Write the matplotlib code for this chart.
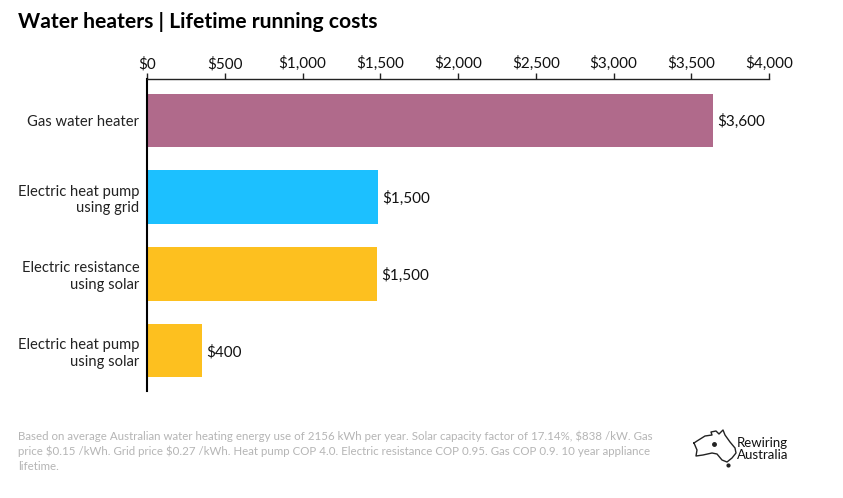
import matplotlib
matplotlib.use("Agg")
import matplotlib.pyplot as plt
from matplotlib.lines import Line2D

plt.rcParams["font.family"] = ["Lato", "DejaVu Sans"]
plt.rcParams["text.parse_math"] = False

W, H = 843, 498
INK = "#111111"
GRAY = "#b5b5b5"

categories = ["Gas water heater", "Electric heat pump\nusing grid",
              "Electric resistance\nusing solar", "Electric heat pump\nusing solar"]
values = [3640, 1485, 1479, 354]
value_labels = ["$3,600", "$1,500", "$1,500", "$400"]
colors = ["#b06a8b", "#1cc0ff", "#fdc01f", "#fdc01f"]
ticks = [0, 500, 1000, 1500, 2000, 2500, 3000, 3500, 4000]
tick_labels = ["$0", "$500", "$1,000", "$1,500", "$2,000", "$2,500", "$3,000", "$3,500", "$4,000"]
note = ("Based on average Australian water heating energy use of 2156 kWh per year. Solar capacity factor of 17.14%, $838 /kW. Gas\n"
        "price $0.15 /kWh. Grid price $0.27 /kWh. Heat pump COP 4.0. Electric resistance COP 0.95. Gas COP 0.9. 10 year appliance\n"
        "lifetime.")

# rough outline of the logo, in pixels of the reference
logo_x = [694, 697, 705, 712, 711, 716, 719, 723, 725, 730, 735, 736, 732, 727, 722, 717, 712, 703, 696, 697, 694]
logo_y = [443, 441, 436, 435, 432, 431, 434, 430, 435, 442, 448, 453, 458, 462, 460, 454, 453, 455, 456, 450, 443]

fig = plt.figure(figsize=(W / 100, H / 100), dpi=100)
ax = fig.add_axes([147 / W, 1 - 391 / H, 622 / W, 312 / H])

ax.barh(range(len(values)), values, height=0.7, color=colors)
ax.set_xlim(0, 4000)
ax.set_ylim(3.53, -0.54)

ax.xaxis.tick_top()
ax.set_xticks(ticks)
ax.set_xticklabels(tick_labels, fontsize=11, color=INK)
ax.tick_params(axis="x", length=4, width=1, color="#222222", pad=1.5)
ax.set_yticks(range(len(categories)))
ax.set_yticklabels(categories, fontsize=10.6, color="#222222", linespacing=1.25)
ax.tick_params(axis="y", length=0, pad=5.5)

for s in ["right", "bottom"]:
    ax.spines[s].set_visible(False)
ax.spines["top"].set_linewidth(1)
ax.spines["top"].set_color("#222222")
ax.spines["left"].set_linewidth(1.5)
ax.spines["left"].set_color("black")

for i, (v, lab) in enumerate(zip(values, value_labels)):
    ax.annotate(lab, (v, i), xytext=(3, -1), textcoords="offset points",
                va="center", fontsize=11, color=INK)

fig.text(18 / W, 1 - 22 / H, "Water heaters | Lifetime running costs", fontsize=15.2,
         fontweight="bold", color="black", va="center")
fig.text(18 / W, 1 - 451 / H, note, fontsize=8.3, color=GRAY, va="center", linespacing=1.4)

fig.add_artist(Line2D([x / W for x in logo_x], [1 - y / H for y in logo_y], color="#222222", lw=1))
fig.add_artist(Line2D([727.5 / W], [1 - 465 / H], marker="o", ms=2, color="#222222"))
fig.add_artist(Line2D([713.5 / W], [1 - 444 / H], marker="o", ms=2.5, color="#222222"))
fig.text(737 / W, 1 - 449 / H, "Rewiring\nAustralia", fontsize=9.5, color="#111111",
         va="center", linespacing=1.0)

fig.savefig("out.png", dpi=100)
